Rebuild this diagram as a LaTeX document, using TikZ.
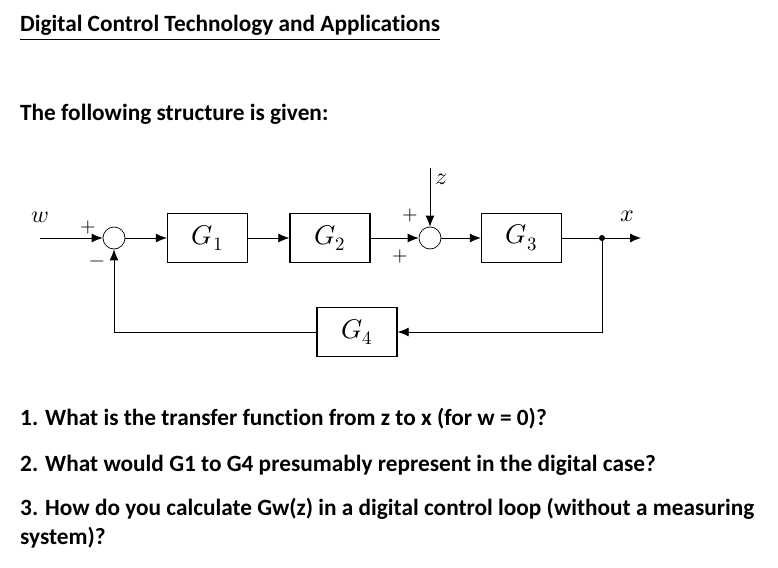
\documentclass[tikz,border=0pt]{standalone}
\usepackage{fontspec}
\setmainfont[Ligatures=NoCommon]{Carlito}
\usepackage{unicode-math}
\setmathfont{Latin Modern Math}
\usetikzlibrary{arrows.meta}
\begin{document}
\begin{tikzpicture}[x=1pt,y=-1pt,
  blk/.style={draw,line width=1.4pt,minimum width=80pt,minimum height=49pt,inner sep=0pt,font=\fontsize{27}{29}\selectfont},
  sumc/.style={draw,circle,line width=0.7pt,minimum size=22pt,inner sep=0pt},
  sig/.style={draw,line width=0.8pt,-{Latex[length=11pt,width=9pt]}},
  wire/.style={draw,line width=0.8pt},
  txt/.style={anchor=west,inner sep=0pt,font=\fontsize{23.3}{27}\selectfont\bfseries},
  sgn/.style={inner sep=0pt,font=\fontsize{20}{20}\selectfont}]
\useasboundingbox (0,0) rectangle (778,567);
\node[txt,anchor=base west] (title) at (20,32) {\underline{Digital Control Technology and Applications}};
\node[txt,anchor=base west] (intro) at (20,121) {The following structure is given:};
\node[sumc] (s1) at (114,238) {};
\node[blk] (g1) at (207.5,238) {$G_1$};
\node[blk] (g2) at (330,238) {$G_2$};
\node[sumc] (s2) at (430,238) {};
\node[blk] (g3) at (521.5,238) {$G_3$};
\node[blk] (g4) at (357,332) {$G_4$};
\fill (602,238) circle (3pt) coordinate (dot);
\coordinate (win) at (40,238);
\coordinate (xout) at (641,238);
\coordinate (ztop) at (430,168);
\node[font=\fontsize{24}{24}\selectfont] (wl) at (40,217) {$w$};
\node[font=\fontsize{24}{24}\selectfont] (zl) at (441,179) {$z$};
\node[font=\fontsize{24}{24}\selectfont] (xl) at (627,216) {$x$};
\node[sgn] (p1) at (88,227) {$+$};
\node[sgn] (m1) at (97,264) {$-$};
\node[sgn] (p2) at (410,215) {$+$};
\node[sgn] (p3) at (400,256) {$+$};
\path[sig] (win) -- (s1);
\path[sig] (s1) -- (g1);
\path[sig] (g1) -- (g2);
\path[sig] (g2) -- (s2);
\path[sig] (ztop) -- (s2.north);
\path[sig] (s2) -- (g3);
\path[wire] (g3) -- (dot);
\path[sig] (dot) -- (xout);
\path[sig] (dot) |- (g4);
\path[sig] (g4) -| (s1);
\node[txt,anchor=base west] (q1) at (20,425) {1. What is the transfer function from z to x (for w = 0)?};
\node[txt,anchor=base west] (q2) at (20,471) {2. What would G1 to G4 presumably represent in the digital case?};
\node[txt,anchor=base west] (q3) at (20,515) {3. How do you calculate Gw(z) in a digital control loop (without a measuring};
\node[txt,anchor=base west] (q3b) at (20,544) {system)?};
\end{tikzpicture}
\end{document}
